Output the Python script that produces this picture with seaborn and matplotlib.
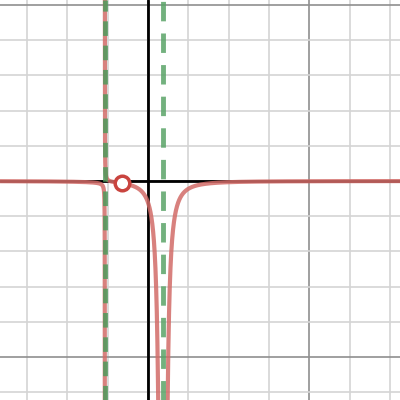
import numpy as np
import pandas as pd
import matplotlib
matplotlib.use("Agg")
import matplotlib.pyplot as plt
import seaborn as sns

# function f(x) = A (x - c) / ((x - a)(x - b)^2), with a removable hole
A = -0.094
zero_c = -0.95
asym_a = -1.07
asym_b = 0.37
hole_x = -0.65
x_range = [-3.67, 6.25]
y_range = [-6.22, 5.14]

def f(x):
    return A * (x - zero_c) / ((x - asym_a) * (x - asym_b) ** 2)

sns.set_style("white")
fig = plt.figure(figsize=(4, 4), dpi=100)
ax = fig.add_axes([0, 0, 1, 1])
ax.set_xlim(*x_range)
ax.set_ylim(*y_range)

for gx in range(-3, 7):
    ax.axvline(gx, color="#8f8f8f" if gx % 4 == 0 else "#d4d4d4", lw=1.2, zorder=0)
for gy in range(-6, 6):
    ax.axhline(gy, color="#8f8f8f" if gy % 5 == 0 else "#d4d4d4", lw=1.2, zorder=0)
ax.axhline(0, color="black", lw=2, zorder=1)
ax.axvline(0, color="black", lw=2, zorder=1)

red = "#d26b67"
green = "#5aa468"
eps = 1e-4
segs = [(x_range[0], asym_a - eps), (asym_a + eps, asym_b - eps), (asym_b + eps, x_range[1])]
for lo, hi in segs:
    xs = np.linspace(lo, hi, 4000)
    df = pd.DataFrame({"x": xs, "y": np.clip(f(xs), -50, 50)})
    sns.lineplot(data=df, x="x", y="y", ax=ax, color=red, lw=3, alpha=0.85, sort=False, zorder=3)

ax.axvline(asym_a, color="#4f9a5c", lw=3.5, ls=(0, (3, 2)), alpha=0.85, zorder=4)
ax.axvline(asym_b, color=green, lw=3.5, ls=(0, (4, 2.5)), alpha=0.85, zorder=4)

ax.scatter([hole_x], [f(hole_x)], s=110, facecolor="white", edgecolor="#c9443f", linewidth=2.5, zorder=5)

ax.set_xlabel("")
ax.set_ylabel("")
ax.set_xticks([])
ax.set_yticks([])
for s in ax.spines.values():
    s.set_visible(False)
fig.savefig("out.png", dpi=100)
